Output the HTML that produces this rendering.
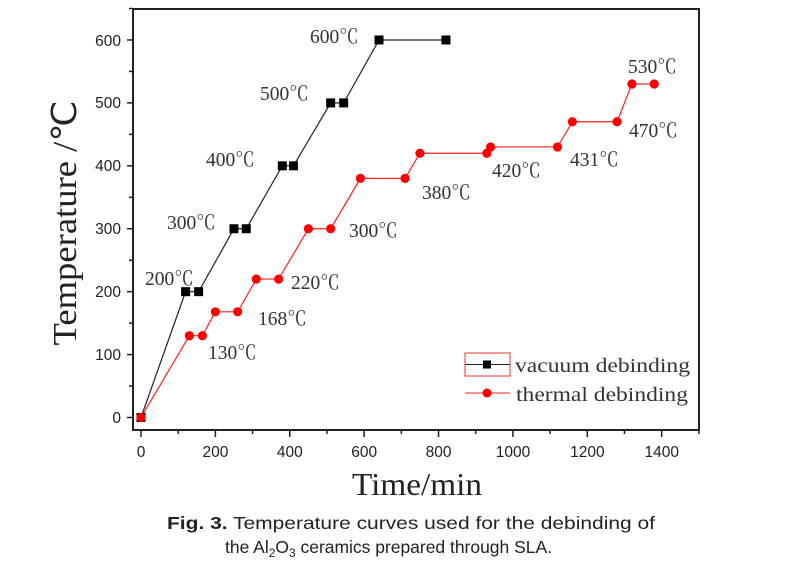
<!DOCTYPE html>
<html><head><meta charset="utf-8"><style>
html,body{margin:0;padding:0;background:#fff;width:800px;height:564px;overflow:hidden}
svg{display:block}
.t{font-family:"Liberation Serif","Noto Serif CJK SC",serif;fill:#333;font-size:19.5px}
.tk{font-family:"Liberation Sans",sans-serif;fill:#222;font-size:15.5px}
</style></head><body>
<svg id="s" width="800" height="564" xmlns="http://www.w3.org/2000/svg">
<rect x="133" y="9" width="566" height="421" fill="none" stroke="#222" stroke-width="2"/>
<g id="ticks" stroke="#222" stroke-width="1.5"></g>
<g class="tk" text-anchor="end">
<text x="121" y="423">0</text><text x="121" y="360">100</text><text x="121" y="297">200</text>
<text x="121" y="234">300</text><text x="121" y="171">400</text><text x="121" y="108">500</text><text x="121" y="46">600</text>
</g>
<g class="tk" text-anchor="middle">
<text x="141" y="457">0</text><text x="215.4" y="457">200</text><text x="289.8" y="457">400</text>
<text x="364.2" y="457">600</text><text x="438.6" y="457">800</text><text x="513" y="457">1000</text>
<text x="587.4" y="457">1200</text><text x="661.8" y="457">1400</text>
</g>
<text x="76" y="223" transform="rotate(-90 76 223)" text-anchor="middle" font-family="Liberation Serif,serif" font-size="34" fill="#222" textLength="245" lengthAdjust="spacingAndGlyphs">Temperature /℃</text>
<text x="417" y="495" text-anchor="middle" font-family="Liberation Serif,serif" font-size="32" fill="#222" textLength="130" lengthAdjust="spacingAndGlyphs">Time/min</text>
<g font-family="Liberation Sans,sans-serif" font-size="17.5" fill="#222">
<text x="167" y="529" textLength="488" lengthAdjust="spacingAndGlyphs"><tspan font-weight="bold">Fig. 3.</tspan>  Temperature curves used for the debinding of</text>
<text x="225" y="553" textLength="327" lengthAdjust="spacing">the Al<tspan font-size="12" dy="4">2</tspan><tspan dy="-4">O</tspan><tspan font-size="12" dy="4">3</tspan><tspan dy="-4"> ceramics prepared through SLA.</tspan></text>
</g>
<g id="series"></g>
<g class="t">
<text x="145" y="285">200℃</text><text x="167" y="229">300℃</text><text x="206" y="166">400℃</text>
<text x="260" y="100">500℃</text><text x="310" y="43">600℃</text>
<text x="208" y="359">130℃</text><text x="258" y="325">168℃</text><text x="291" y="289">220℃</text>
<text x="349" y="237">300℃</text><text x="422" y="199">380℃</text><text x="492" y="177">420℃</text>
<text x="570" y="166">431℃</text><text x="629" y="137">470℃</text><text x="628" y="73">530℃</text>
</g>
<rect x="465" y="353" width="45" height="23" fill="none" stroke="#e33" stroke-width="1"/>
<line x1="465" y1="364.5" x2="510" y2="364.5" stroke="#222"/>
<rect x="483" y="360.5" width="8" height="8" fill="#000"/>
<line x1="465" y1="393" x2="510" y2="393" stroke="#f22"/>
<circle cx="487" cy="393" r="4.5" fill="#f00"/>
<g class="t" font-size="25" fill="#222"><text x="515" y="372" textLength="175" lengthAdjust="spacingAndGlyphs">vacuum debinding</text><text x="516" y="401" textLength="172" lengthAdjust="spacingAndGlyphs">thermal debinding</text></g>
</svg>
<script>
var X=t=>141+t*0.3719, Y=v=>417.5-v*0.6292, NS="http://www.w3.org/2000/svg";
function el(n,a,p){var e=document.createElementNS(NS,n);for(var k in a)e.setAttribute(k,a[k]);p.appendChild(e);return e;}
var tk=document.getElementById('ticks');
for(var v=0;v<=650;v+=50){var y=Y(v);el('line',{x1:v%100?129:127,x2:133,y1:y,y2:y},tk);}
for(var t=0;t<=1500;t+=100){var x=X(t);if(x>699)continue;el('line',{x1:x,x2:x,y1:430,y2:t%200?434:437},tk);}
var vac=[[0,0],[120,200],[155,200],[250,300],[283,300],[380,400],[410,400],[510,500],[545,500],[640,600],[820,600]];
var th=[[0,0],[130,130],[165,130],[200,168],[260,168],[310,220],[370,220],[450,300],[510,300],[590,380],[710,380],[750,420],[930,420],[940,430],[1120,430],[1160,470],[1280,470],[1320,530],[1380,530]];
var g=document.getElementById('series');
el('polyline',{points:vac.map(p=>X(p[0])+','+Y(p[1])).join(' '),fill:'none',stroke:'#222','stroke-width':1.2},g);
el('polyline',{points:th.map(p=>X(p[0])+','+Y(p[1])).join(' '),fill:'none',stroke:'#f22','stroke-width':1.2},g);
vac.forEach(p=>el('rect',{x:X(p[0])-4.5,y:Y(p[1])-4.5,width:9,height:9,fill:'#000'},g));
th.forEach(p=>el('circle',{cx:X(p[0]),cy:Y(p[1]),r:4.6,fill:'#f00'},g));
</script>
</body></html>
